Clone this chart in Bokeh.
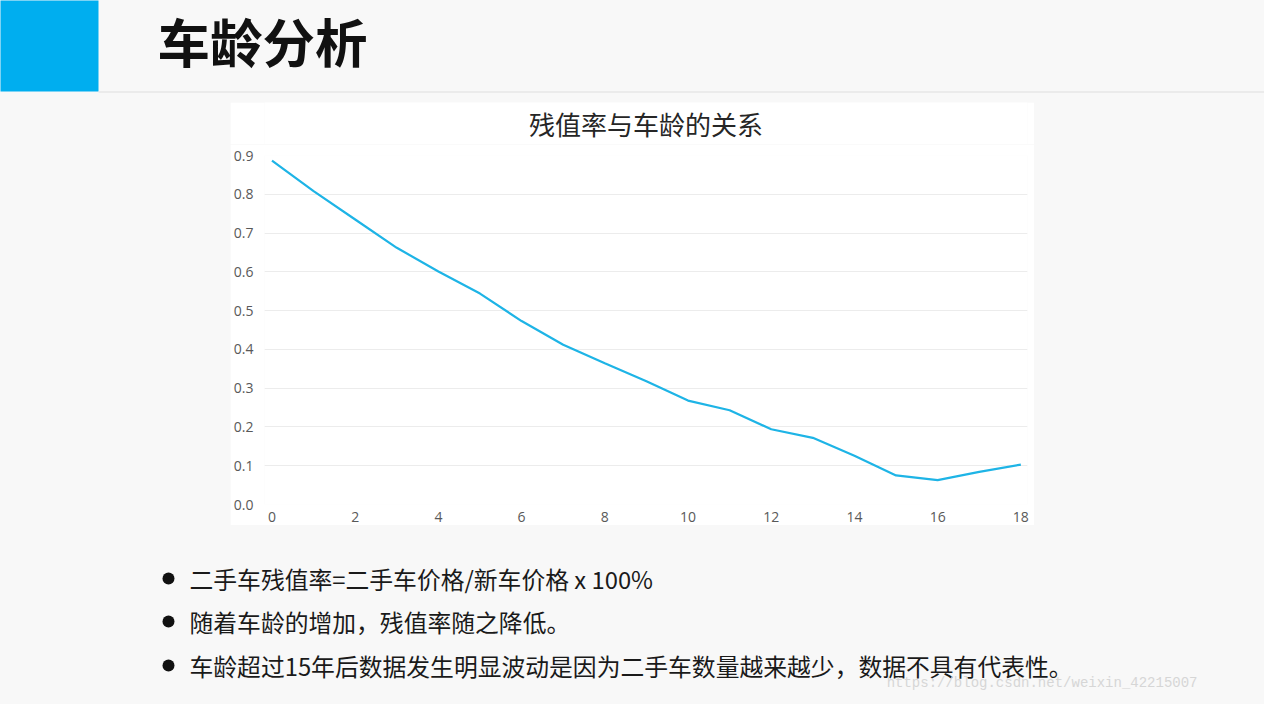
from bokeh.plotting import figure
from bokeh.models import Range1d, FixedTicker, NumeralTickFormatter, Spacer
from bokeh.layouts import column, row
from bokeh.core.properties import value
from bokeh.embed import file_html
from bokeh.resources import INLINE

# ---- data ----
age = [0, 1, 2, 3, 4, 5, 6, 7, 8, 9, 10, 11, 12, 13, 14, 15, 16, 17, 18]
residual_rate = [0.887, 0.808, 0.735, 0.662, 0.601, 0.544, 0.473, 0.412, 0.364, 0.318,
                 0.268, 0.243, 0.194, 0.172, 0.126, 0.075, 0.063, 0.084, 0.103]
x_ticks = [0, 2, 4, 6, 8, 10, 12, 14, 16, 18]
y_ticks = [0.0, 0.1, 0.2, 0.3, 0.4, 0.5, 0.6, 0.7, 0.8, 0.9]

slide_title = "车龄分析"
chart_title = "残值率与车龄的关系"
bullets = [
    "二手车残值率=二手车价格/新车价格 x 100%",
    "随着车龄的增加，残值率随之降低。",
    "车龄超过15年后数据发生明显波动是因为二手车数量越来越少，数据不具有代表性。",
]
watermark = "https://blog.csdn.net/weixin_42215007"

CJK = "Noto Sans CJK SC"
BG = "#f8f8f8"
W = 1264
HEAD_H, TITLE_H, CHART_H = 102, 42, 381
FOOT_H = 704 - HEAD_H - TITLE_H - CHART_H
SIDE = 230
CHART_W = W - 2 * SIDE


def blank(w, h, y0, fill=BG):
    f = figure(width=w, height=h, output_backend="svg", toolbar_location=None,
               x_range=Range1d(0, w), y_range=Range1d(y0 + h, y0),
               min_border=0, x_axis_type=None, y_axis_type=None)
    f.xgrid.visible = False
    f.ygrid.visible = False
    f.outline_line_color = None
    f.background_fill_color = fill
    f.border_fill_color = fill
    return f


# ---- header ----
head = blank(W, HEAD_H, 0)
head.quad(left=[-10], right=[98], top=[-10], bottom=[91],
          fill_color="#00aeef", line_color=None)
head.quad(left=[98], right=[W + 10], top=[91], bottom=[92],
          fill_color="#dedede", line_color=None)
head.text(x=[157], y=[39], text=[slide_title], text_font=value(CJK),
          text_font_style="bold", text_font_size="52.5px", text_color="#111111",
          text_baseline="middle", text_align="left")

# ---- chart title strip (top of white panel) ----
tstrip = blank(CHART_W, TITLE_H, HEAD_H, fill="white")
tstrip.text(x=[CHART_W / 2], y=[123], text=[chart_title], text_font=value(CJK),
            text_font_size="26px", text_color="#262626",
            text_baseline="middle", text_align="center")

# ---- chart ----
p = figure(width=CHART_W, height=CHART_H, output_backend="svg", toolbar_location=None,
           x_range=Range1d(-0.18, 18.16), y_range=Range1d(0, 0.9),
           min_border_left=30, min_border_right=7,
           min_border_top=11, min_border_bottom=21)
p.border_fill_color = "white"
p.background_fill_color = "white"
p.outline_line_color = None

p.line(age, residual_rate, line_color="#1eb4e6", line_width=2.2)

p.xaxis.ticker = FixedTicker(ticks=x_ticks)
p.yaxis.ticker = FixedTicker(ticks=y_ticks)
p.yaxis.formatter = NumeralTickFormatter(format="0.0")
for ax in (p.xaxis, p.yaxis):
    ax.axis_line_color = None
    ax.major_tick_line_color = None
    ax.minor_tick_line_color = None
    ax.major_label_text_font = "Open Sans"
    ax.major_label_text_font_size = "14px"
    ax.major_label_text_color = "#595959"
p.xaxis.major_label_standoff = 1
p.yaxis.major_label_standoff = 5
p.xgrid.grid_line_color = None
p.ygrid.grid_line_color = "#ececec"

chart_block = column(tstrip, p, spacing=0)
left_sp = Spacer(width=SIDE, height=TITLE_H + CHART_H, styles={"background-color": BG})
right_sp = Spacer(width=SIDE, height=TITLE_H + CHART_H, styles={"background-color": BG})

# ---- bottom ----
y0_foot = HEAD_H + TITLE_H + CHART_H
foot = blank(W, FOOT_H, y0_foot)
bullet_y = [578, 621, 665]
foot.scatter(x=[168, 168, 168], y=bullet_y, size=12, marker="circle",
             fill_color="#111111", line_color=None)
foot.text(x=[189, 189, 189], y=bullet_y, text=bullets, text_font=value(CJK),
          text_font_size="23.8px", text_color="#1a1a1a",
          text_baseline="middle", text_align="left")
foot.text(x=[1197], y=[682], text=[watermark], text_font=value("Liberation Mono"),
          text_font_size="14px", text_color="#d6d6d6",
          text_baseline="middle", text_align="right")

page = column(head, row(left_sp, chart_block, right_sp, spacing=0), foot, spacing=0,
              styles={"background-color": BG})

open("out.html", "w").write(file_html(page, INLINE))
